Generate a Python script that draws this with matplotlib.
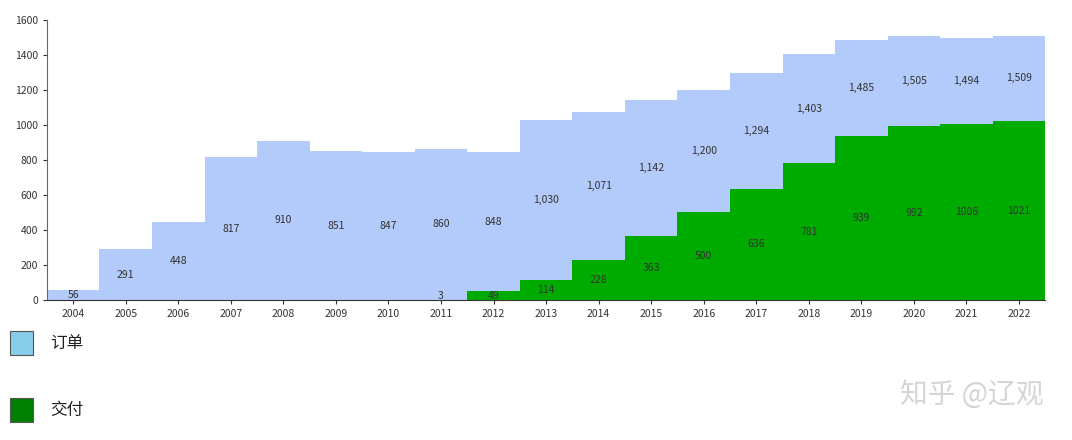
import matplotlib
matplotlib.use("Agg")
import matplotlib.pyplot as plt
from matplotlib.patches import Rectangle

plt.rcParams['font.family'] = ['Noto Sans CJK SC', 'DejaVu Sans']

years = list(range(2004, 2023))
orders = [56, 291, 448, 817, 910, 851, 847, 860, 848, 1030, 1071, 1142, 1200, 1294, 1403, 1485, 1505, 1494, 1509]
order_labels = ['56', '291', '448', '817', '910', '851', '847', '860', '848', '1,030', '1,071', '1,142',
                '1,200', '1,294', '1,403', '1,485', '1,505', '1,494', '1,509']
deliveries = [0, 0, 0, 0, 0, 0, 0, 3, 49, 114, 228, 363, 500, 636, 781, 939, 992, 1006, 1021]

fig = plt.figure(figsize=(10.72, 4.4), dpi=100)
ax = fig.add_axes([0.0438, 0.318, 0.9312, 0.637])
x = list(range(len(years)))
ax.bar(x, orders, width=1.0, color='#b3cbfa', linewidth=0)
ax.bar(x, deliveries, width=1.0, color='#00ab00', linewidth=0)
for i in x:
    d, o = deliveries[i], orders[i]
    ax.text(i, (d + o) / 2, order_labels[i], ha='center', va='center', fontsize=7.5, color='#333333')
    if d > 0:
        ax.text(i, max(d / 2, 25), str(d), ha='center', va='center', fontsize=7.5, color='#333333')
ax.set_xlim(-0.5, len(years) - 0.5)
ax.set_ylim(0, 1600)
ax.set_yticks(range(0, 1601, 200))
ax.set_xticks(x)
ax.set_xticklabels([str(y) for y in years])
ax.tick_params(labelsize=7.5, colors='#333333', length=3)
for s in ['top', 'right']:
    ax.spines[s].set_visible(False)
ax.spines['left'].set_color('#666666')
ax.spines['bottom'].set_color('#333333')

fig.patches.append(Rectangle((10/1072, 1-355/440), 23/1072, 24/440, transform=fig.transFigure,
                             facecolor='#87ceeb', edgecolor='#555555', linewidth=0.8))
fig.patches.append(Rectangle((10/1072, 1-422/440), 23/1072, 24/440, transform=fig.transFigure,
                             facecolor='#008000', edgecolor='#555555', linewidth=0.8))
fig.text(50/1072, 1-343/440, '订单', fontsize=12, va='center', color='#222222')
fig.text(50/1072, 1-410/440, '交付', fontsize=12, va='center', color='#222222')
fig.text(1043/1072, 1-395/440, '知乎 @辽观', fontsize=20, ha='right', va='center', color='#d5d5d5')

fig.savefig('out.png', dpi=100)
